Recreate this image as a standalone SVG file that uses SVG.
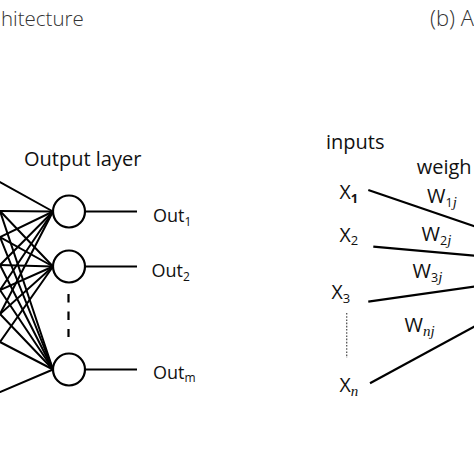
<svg xmlns="http://www.w3.org/2000/svg" width="474" height="474" viewBox="0 0 474 474">
<style>
  .t { font-family: "Open Sans", "Liberation Sans", sans-serif; fill: #111; }
  .title { font-family: "Open Sans", "Liberation Sans", sans-serif; font-weight: 300; fill: #333; }
  .node { fill: #fff; stroke: #000; stroke-width: 2.2; }
  .edge { stroke: #000; stroke-width: 2; fill: none; stroke-linecap: round; }
  .wedge { stroke: #000; stroke-width: 2.2; fill: none; }
  .it { font-family: "Liberation Serif", serif; font-style: italic; }
</style>
<rect width="474" height="474" fill="#fff"/>

<g id="titles">
  <text class="title" x="1" y="26" font-size="20.5">hitecture</text>
  <text class="title" x="430" y="26" font-size="22">(b) A</text>
</g>

<g id="connectors">
  <!-- hidden to output layer -->
  <line class="edge" x1="0" y1="182" x2="53" y2="211.5"/>
  <line class="edge" x1="0" y1="211" x2="53" y2="211.5"/>
  <line class="edge" x1="0" y1="211" x2="53" y2="266.5"/>
  <line class="edge" x1="0" y1="211" x2="53" y2="369.5"/>
  <line class="edge" x1="0" y1="237" x2="53" y2="211.5"/>
  <line class="edge" x1="0" y1="237" x2="53" y2="266.5"/>
  <line class="edge" x1="0" y1="237" x2="53" y2="369.5"/>
  <line class="edge" x1="0" y1="265" x2="53" y2="211.5"/>
  <line class="edge" x1="0" y1="265" x2="53" y2="266.5"/>
  <line class="edge" x1="0" y1="265" x2="53" y2="369.5"/>
  <line class="edge" x1="0" y1="290" x2="53" y2="211.5"/>
  <line class="edge" x1="0" y1="290" x2="53" y2="266.5"/>
  <line class="edge" x1="0" y1="290" x2="53" y2="369.5"/>
  <line class="edge" x1="0" y1="314" x2="53" y2="211.5"/>
  <line class="edge" x1="0" y1="314" x2="53" y2="266.5"/>
  <line class="edge" x1="0" y1="314" x2="53" y2="369.5"/>
  <line class="edge" x1="0" y1="342" x2="53" y2="266.5"/>
  <line class="edge" x1="0" y1="342" x2="53" y2="369.5"/>
  <line class="edge" x1="0" y1="392" x2="53" y2="369.5"/>
  <!-- output lines -->
  <line class="wedge" x1="85" y1="211.5" x2="137" y2="211.5"/>
  <line class="wedge" x1="85" y1="266.5" x2="137" y2="266.5"/>
  <line class="wedge" x1="85" y1="369.5" x2="137" y2="369.5"/>
  <!-- dashed ellipsis between output nodes -->
  <line x1="68.5" y1="294" x2="68.5" y2="337" stroke="#000" stroke-width="2.2" stroke-dasharray="8.5 9"/>
  <!-- neuron inputs -->
  <line class="wedge" x1="368.3" y1="190" x2="490" y2="231.5"/>
  <line class="wedge" x1="373.3" y1="246.7" x2="490" y2="257"/>
  <line class="wedge" x1="368.3" y1="301.7" x2="490" y2="284.4"/>
  <line class="wedge" x1="370" y1="383.3" x2="490" y2="318"/>
  <!-- dotted ellipsis between inputs -->
  <line x1="346.7" y1="313" x2="346.7" y2="358" stroke="#555" stroke-width="1.3" stroke-dasharray="1.6 1.6"/>
</g>

<g id="output-layer">
  <text class="t" x="24" y="165.5" font-size="20">Output layer</text>
</g>
<g id="out1">
  <circle class="node" cx="69" cy="211.5" r="16"/>
  <text class="t" x="153" y="222" font-size="18">Out<tspan font-size="12" dy="3.5">1</tspan></text>
</g>
<g id="out2">
  <circle class="node" cx="69" cy="266.5" r="16"/>
  <text class="t" x="151.5" y="277" font-size="18">Out<tspan font-size="12" dy="3.5">2</tspan></text>
</g>
<g id="outm">
  <circle class="node" cx="69" cy="369.5" r="16"/>
  <text class="t" x="153" y="378.5" font-size="18">Out<tspan font-size="12" dy="3.5">m</tspan></text>
</g>

<g id="inputs-label">
  <text class="t" x="326" y="149" font-size="20">inputs</text>
</g>
<g id="weights-label">
  <text class="t" x="416.7" y="174" font-size="20">weigh</text>
</g>
<g id="x1">
  <text class="t" x="339.5" y="198.5" font-size="19.5">X<tspan font-size="13" font-weight="bold" dy="4">1</tspan></text>
</g>
<g id="x2">
  <text class="t" x="339.5" y="241.5" font-size="19.5">X<tspan font-size="13" dy="3.5">2</tspan></text>
</g>
<g id="x3">
  <text class="t" x="331.5" y="299" font-size="19.5">X<tspan font-size="13" dy="4">3</tspan></text>
</g>
<g id="xn">
  <text class="t" x="339.5" y="391.5" font-size="19.5">X<tspan class="it" font-size="15" dy="4">n</tspan></text>
</g>
<g id="w1j">
  <text class="t" x="427" y="203" font-size="20">W<tspan font-size="12.5" dy="4">1</tspan><tspan class="it" font-size="15">j</tspan></text>
</g>
<g id="w2j">
  <text class="t" x="421.5" y="241" font-size="20">W<tspan font-size="12.5" dy="4">2</tspan><tspan class="it" font-size="15">j</tspan></text>
</g>
<g id="w3j">
  <text class="t" x="412.5" y="278" font-size="20">W<tspan font-size="12.5" dy="4">3</tspan><tspan class="it" font-size="15">j</tspan></text>
</g>
<g id="wnj">
  <text class="t" x="404.5" y="332" font-size="20">W<tspan class="it" font-size="15" dy="4">nj</tspan></text>
</g>
</svg>
